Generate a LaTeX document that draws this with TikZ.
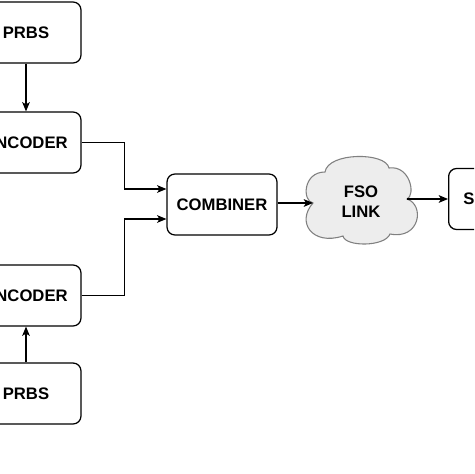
\documentclass[tikz,border=0pt]{standalone}
\usepackage{fontspec}
\setmainfont{Liberation Sans}
\usetikzlibrary{arrows.meta,calc}
\begin{document}
\begin{tikzpicture}[x=0.75pt,y=-0.75pt,
  blk/.style={draw=black,line width=0.95pt,rounded corners=6pt,fill=white,
    minimum width=82.5pt,minimum height=45.75pt,inner sep=0pt,
    font=\fontsize{12.5pt}{15pt}\selectfont\bfseries},
  lbl/.style={inner sep=0pt,font=\fontsize{12.5pt}{15pt}\selectfont\bfseries},
  arr/.style={draw=black,line width=0.8pt,-{Stealth[length=7pt,width=5.8pt,inset=1.8pt]}},
  cloudsty/.style={draw=black!50,fill=black!7,line width=0.8pt}]
\useasboundingbox (0,0) rectangle (474,474);
\clip (0,0) rectangle (474,474);
\fill[white] (0,0) rectangle (474,474);
% blocks
\node[blk] (prbs1) at (26,32.5) {PRBS};
\node[blk] (enc1) at (26,142.5) {ENCODER};
\node[blk] (comb) at (222,204.5) {COMBINER};
\node[blk] (enc2) at (26,295.5) {ENCODER};
\node[blk] (prbs2) at (26,393.5) {PRBS};
\node[blk,anchor=west] (sbox) at (448,199) {};
\node[lbl,anchor=west] (stext) at (463,199) {S};
% cloud
\coordinate (cl) at (313,203);
\coordinate (ctl) at (325,172);
\coordinate (ctr) at (389,168);
\coordinate (cr) at (407,199);
\coordinate (cbr) at (390,234);
\coordinate (cbl) at (343,236);
\path[cloudsty] (cl) .. controls (302,201) and (303,172) .. (ctl)
  .. controls (328,152) and (386,152) .. (ctr)
  .. controls (410,165) and (416,195) .. (cr)
  .. controls (425,205) and (420,240) .. (cbr)
  .. controls (385,247) and (345,247) .. (cbl)
  .. controls (312,246) and (296,222) .. (cl) -- cycle;
\node[lbl,align=center] (fso) at (361,202) {FSO\\LINK};
% connectors
\coordinate (in1) at ($(comb.west)+(0,-15.5)$);
\coordinate (in2) at ($(comb.west)+(0,14.5)$);
\draw[arr] (prbs1.south) -- (enc1.north);
\draw[arr] (prbs2.north) -- (enc2.south);
\draw[arr] (enc1.east) -- ++(43,0) |- (in1);
\draw[arr] (enc2.east) -- ++(43,0) |- (in2);
\draw[arr] (comb.east |- cl) -- (cl);
\draw[arr] (cr) -- (sbox.west);
\end{tikzpicture}
\end{document}
